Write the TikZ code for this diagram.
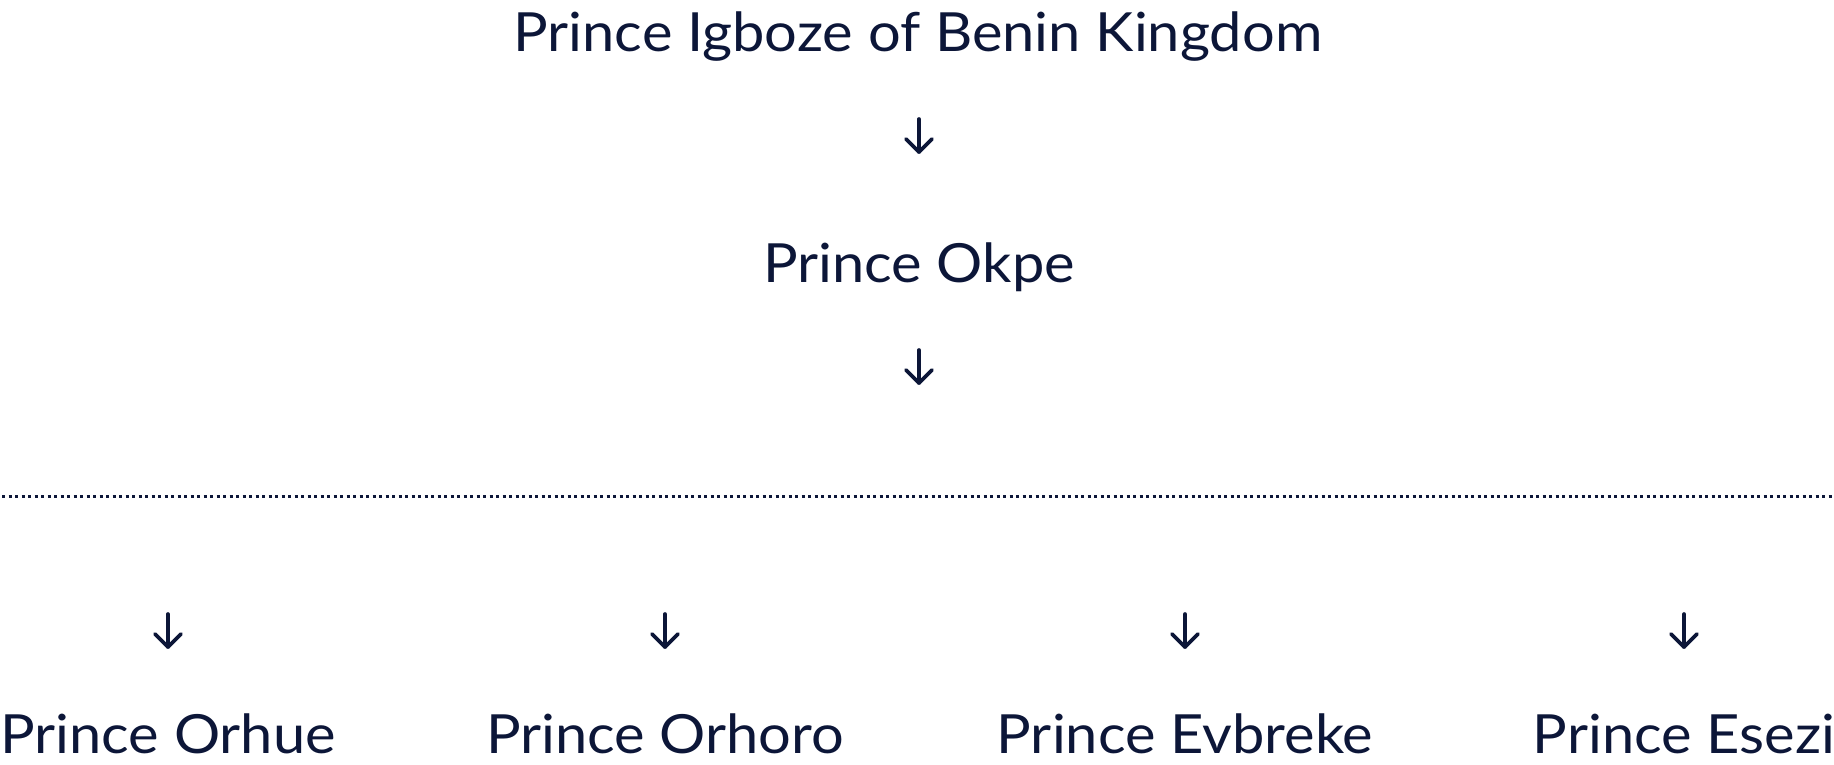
\documentclass[tikz,border=0pt]{standalone}
\usepackage{fontspec}
\setmainfont[FakeStretch=1.07]{Lato}
\usetikzlibrary{calc}
\definecolor{ink}{RGB}{12,22,56}
\tikzset{
  x=1pt, y=-1pt,
  person/.style={anchor=base, inner sep=0pt, text=ink, font=\fontsize{54}{60}\selectfont},
  arrowline/.style={draw=ink, line width=3.6pt, line cap=round, line join=round},
  sepline/.style={draw=ink, line width=3pt, dash pattern=on 3pt off 3.5pt}
}
\begin{document}
\begin{tikzpicture}
\useasboundingbox[fill=white] (0,0) rectangle (1834,765);
\node[person] (igboze) at (918,52) {Prince Igboze of Benin Kingdom};
\node[person] (okpe) at (919,282) {Prince Okpe};
\node[person] (orhue) at (168,753) {Prince Orhue};
\node[person] (orhoro) at (665,753) {Prince Orhoro};
\node[person] (evbreke) at (1185,753) {Prince Evbreke};
\node[person] (esezi) at (1684,753) {Prince Esezi};
% arrows
\coordinate (a1s) at (919,119); \coordinate (a1e) at (919,152);
\coordinate (a2s) at (919,350); \coordinate (a2e) at (919,383);
\coordinate (b1s) at (168,614); \coordinate (b1e) at (168,647);
\coordinate (b2s) at (665,614); \coordinate (b2e) at (665,647);
\coordinate (b3s) at (1185,614); \coordinate (b3e) at (1185,647);
\coordinate (b4s) at (1684,614); \coordinate (b4e) at (1684,647);
\foreach \s/\e in {a1s/a1e,a2s/a2e,b1s/b1e,b2s/b2e,b3s/b3e,b4s/b4e}{
  \draw[arrowline] (\s) -- (\e);
  \draw[arrowline] ($(\e)+(-13,-13)$) -- (\e) -- ($(\e)+(13,-13)$);
}
% separator
\coordinate (sepl) at (2,496); \coordinate (sepr) at (1834,496);
\draw[sepline] (sepl) -- (sepr);
\end{tikzpicture}
\end{document}
